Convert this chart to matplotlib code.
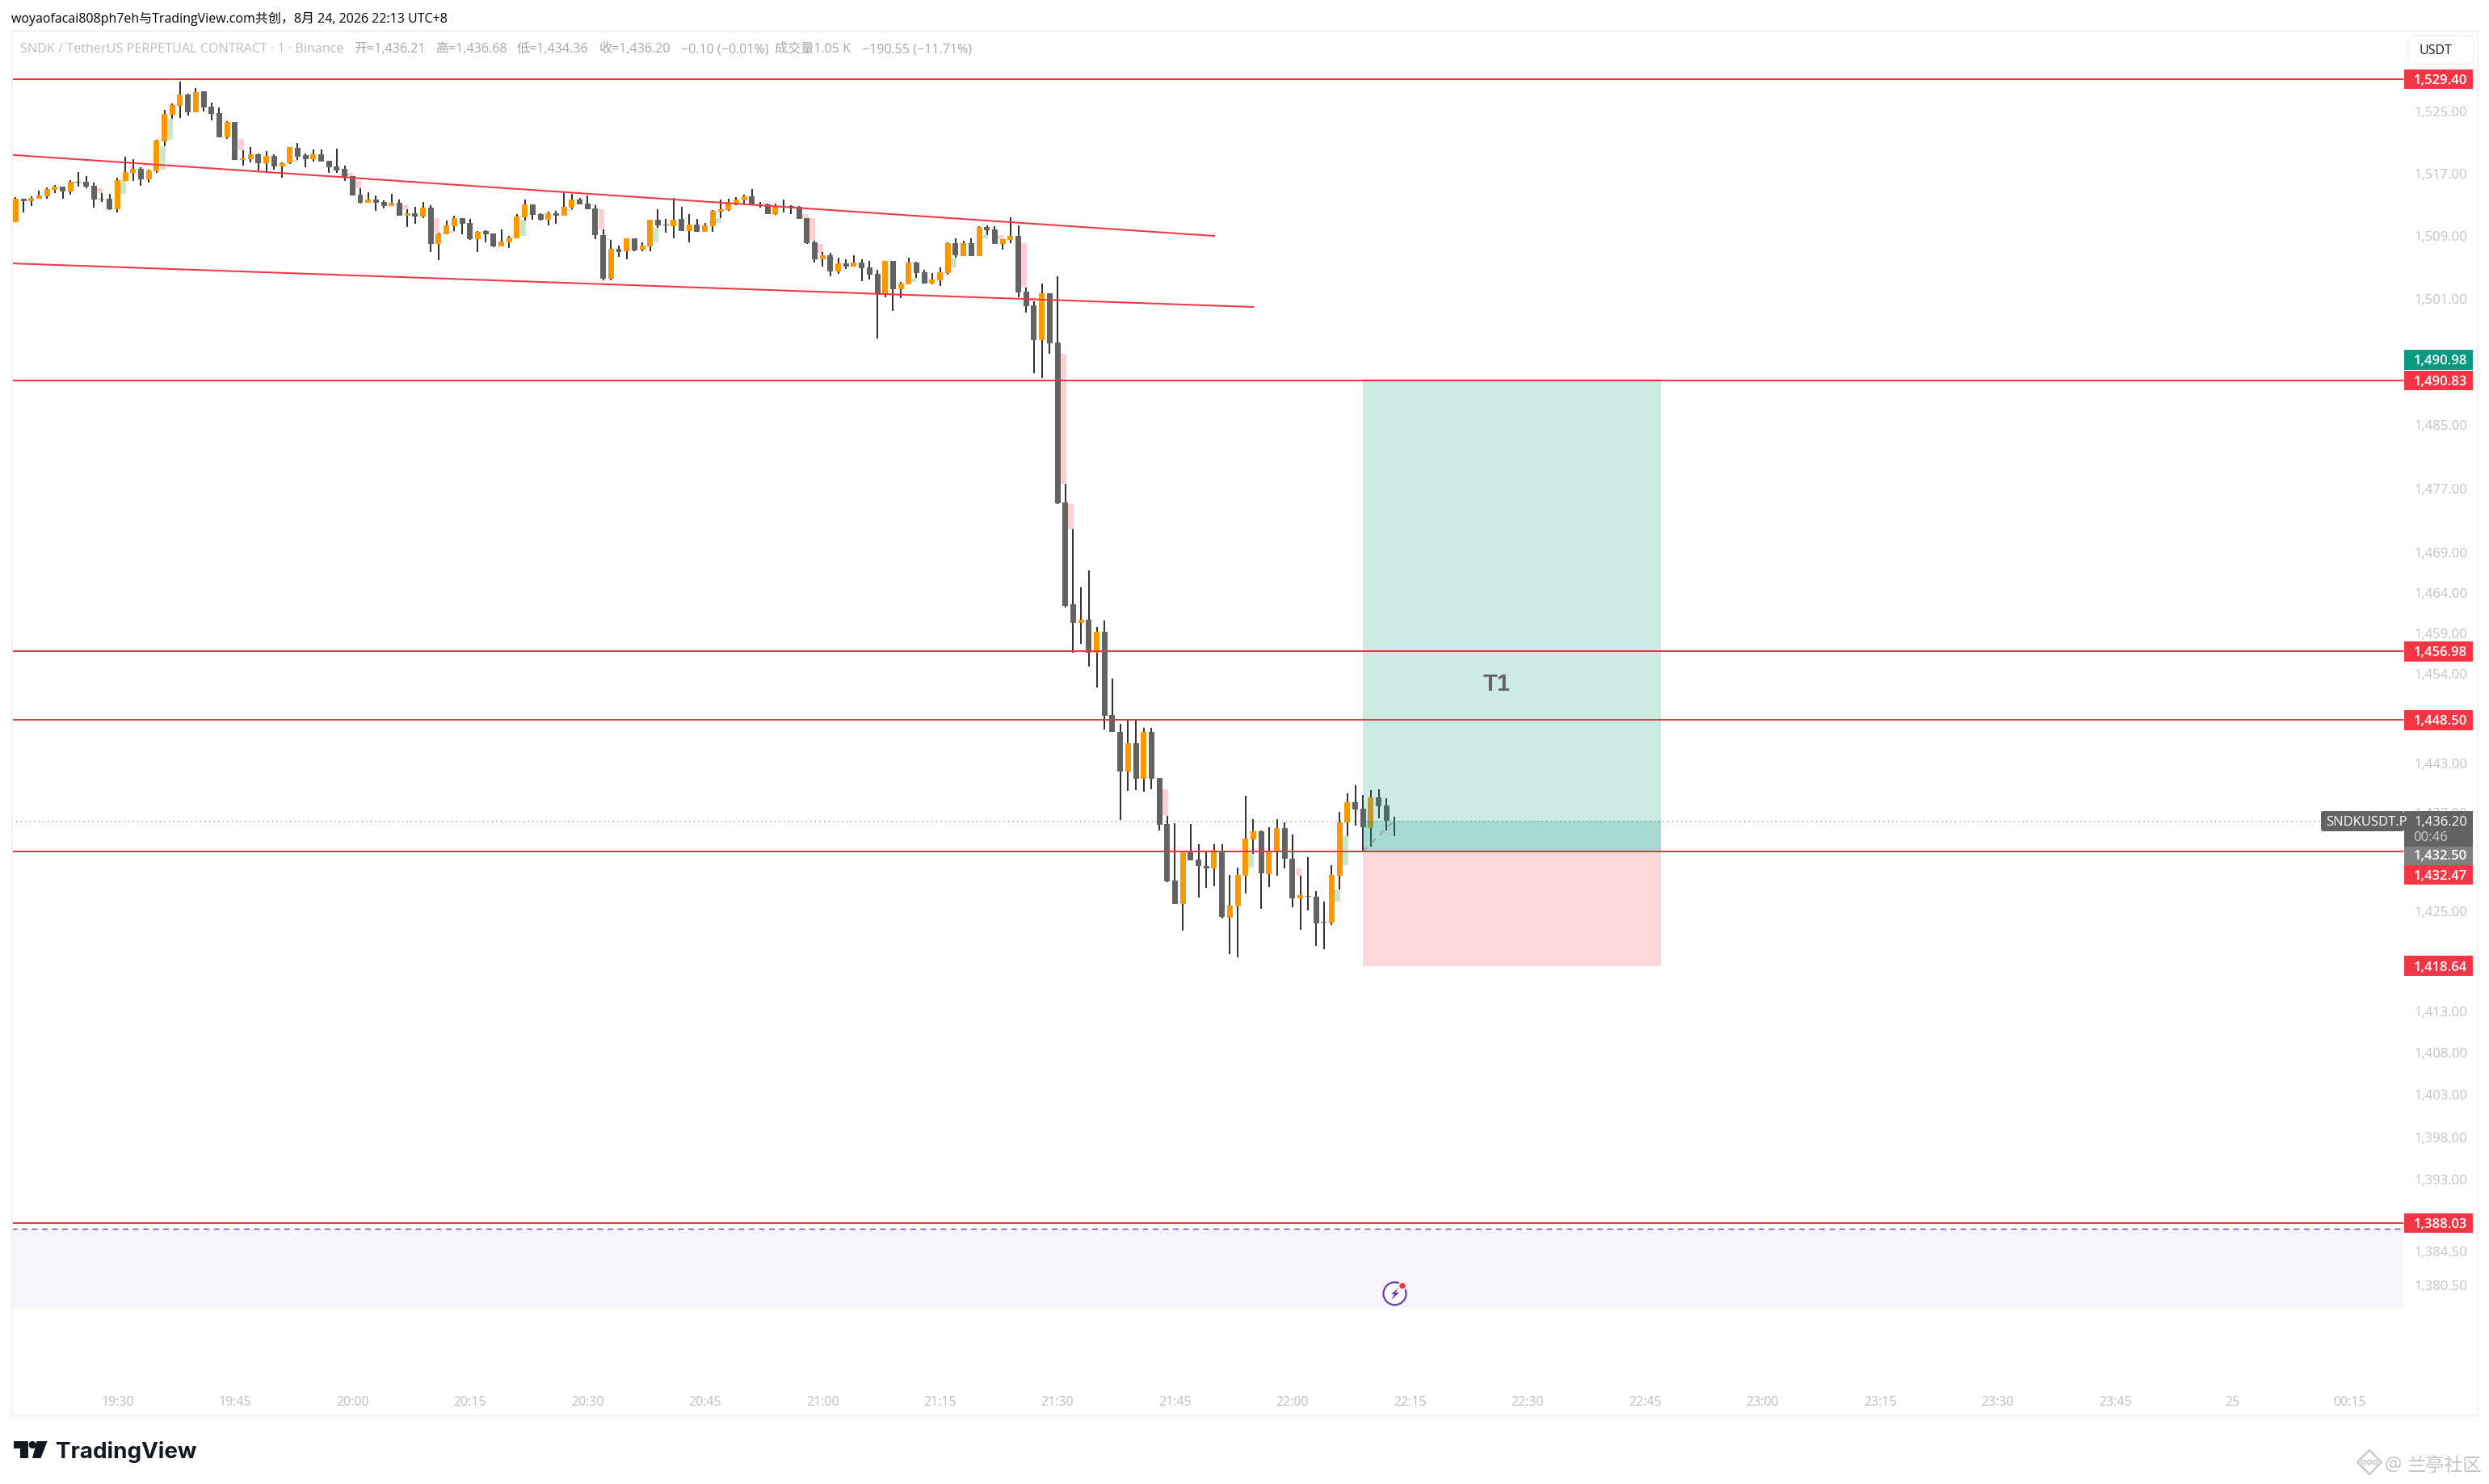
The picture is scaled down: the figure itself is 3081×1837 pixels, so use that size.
import numpy as np
import matplotlib
matplotlib.use('Agg')
import matplotlib.pyplot as plt
from matplotlib.patches import Rectangle, Circle, Polygon, FancyBboxPatch
from matplotlib.ticker import NullLocator, NullFormatter
from matplotlib.transforms import Affine2D

# 1 minute candles, x is minutes after 19:30
first_minute = -13
op = [1510.97,1513.97,1513.66,1513.97,1514.29,1515.12,1515.53,1514.91,1516.15,1516.15,1515.63,1513.97,1513.97,1512.63,1516.26,1517.30,1517.82,1516.47,1517.50,1521.36,1524.80,1525.95,1527.41,1525.11,1527.83,1525.84,1525.01,1521.88,1523.86,1518.96,1519.06,1519.69,1518.54,1519.48,1518.13,1518.54,1520.52,1519.58,1519.06,1519.69,1518.86,1518.13,1517.82,1516.88,1514.49,1513.46,1513.87,1513.56,1513.04,1513.46,1511.80,1512.11,1511.70,1512.83,1508.18,1509.42,1510.45,1511.49,1510.87,
      1508.80,1509.83,1509.52,1507.87,1508.39,1508.90,1511.59,1513.25,1512.01,1511.28,1512.11,1511.80,1512.83,1513.87,1513.35,1512.73,1509.32,1503.74,1507.56,1507.25,1508.90,1507.46,1507.87,1511.28,1510.66,1510.45,1511.38,1509.83,1510.66,1509.73,1510.45,1512.32,1512.52,1513.35,1513.77,1514.29,1513.04,1513.25,1512.01,1513.01,1513.04,1512.94,1511.49,1508.39,1506.22,1506.73,1504.67,1505.70,1505.29,1505.80,1505.19,1504.36,1501.79,1506.01,1502.41,1503.02,1505.80,1504.57,1503.13,
      1503.54,1504.46,1508.28,1506.63,1508.28,1506.63,1510.35,1510.04,1508.18,1508.70,1509.21,1502.10,1500.35,1495.94,1501.89,1495.63,1475.48,1462.80,1460.50,1460.90,1456.80,1459.40,1449.14,1447.06,1442.21,1445.67,1441.32,1447.06,1441.42,1435.80,1428.94,1426.10,1432.37,1431.48,1430.70,1430.41,1432.37,1424.44,1425.81,1429.52,1433.94,1434.92,1429.72,1432.37,1435.31,1431.58,1426.78,1427.08,1426.98,1423.95,1423.86,1429.52,1436.00,1438.46,1437.67,1435.31,1439.05,1438.07,1436.21]
hi = [1514.18,1513.97,1514.29,1515.01,1515.43,1515.74,1515.53,1516.36,1517.40,1516.88,1516.05,1514.70,1514.60,1516.67,1519.38,1519.06,1518.02,1517.71,1521.56,1525.42,1526.26,1529.09,1527.52,1528.25,1527.83,1526.37,1525.74,1523.96,1523.86,1520.21,1520.63,1519.79,1520.11,1519.69,1518.65,1520.63,1521.15,1519.79,1520.31,1520.31,1518.86,1520.42,1518.23,1516.88,1515.32,1514.80,1514.39,1513.77,1514.60,1513.87,1512.63,1512.94,1513.56,1513.15,1509.63,1511.18,1511.80,1511.49,1511.38,
      1509.83,1509.94,1509.52,1510.04,1509.21,1512.01,1513.87,1513.25,1512.11,1512.32,1512.42,1514.70,1514.60,1514.08,1514.39,1513.15,1510.04,1508.70,1507.97,1508.90,1508.90,1508.39,1511.28,1512.63,1511.38,1514.08,1512.94,1512.01,1511.38,1510.87,1512.52,1513.87,1513.97,1514.18,1514.49,1515.22,1513.56,1513.35,1513.35,1513.87,1513.15,1513.04,1511.49,1508.59,1507.15,1507.04,1506.42,1506.22,1506.73,1506.22,1506.01,1504.88,1506.01,1506.01,1503.33,1506.42,1505.91,1504.88,1504.46,
      1505.19,1508.39,1508.90,1508.59,1508.90,1510.45,1510.56,1510.45,1508.80,1511.59,1510.56,1502.61,1500.86,1503.13,1501.89,1504.05,1477.81,1472.15,1464.91,1467.02,1460.00,1460.80,1453.62,1448.05,1448.45,1448.45,1447.55,1447.55,1441.42,1436.79,1435.90,1432.37,1435.80,1433.35,1432.37,1433.35,1433.35,1429.62,1430.50,1439.25,1436.39,1435.02,1435.41,1436.39,1436.00,1434.53,1429.52,1431.78,1427.66,1426.39,1430.80,1437.28,1439.55,1440.53,1439.35,1439.94,1440.04,1438.95,1436.68]
lo = [1510.97,1512.25,1513.04,1513.97,1513.97,1514.74,1513.97,1514.49,1515.53,1515.32,1512.83,1513.56,1512.52,1512.21,1516.26,1516.26,1515.63,1516.05,1517.30,1520.73,1524.28,1524.38,1524.69,1525.11,1525.22,1524.07,1521.88,1521.67,1518.96,1518.23,1518.65,1517.61,1517.50,1517.71,1516.67,1518.44,1518.96,1518.02,1518.75,1518.75,1517.30,1517.30,1516.26,1514.39,1513.35,1513.46,1512.42,1512.73,1513.04,1511.80,1510.35,1510.76,1511.49,1507.15,1506.11,1509.42,1509.83,1509.42,1508.70,
      1507.15,1508.39,1507.77,1507.87,1507.66,1508.90,1511.18,1511.28,1511.18,1510.56,1510.76,1511.80,1512.63,1513.25,1512.63,1508.80,1503.54,1503.54,1506.53,1506.22,1507.25,1507.25,1507.25,1510.25,1509.63,1508.90,1509.83,1508.39,1509.73,1509.73,1509.73,1511.49,1512.42,1513.15,1513.35,1513.15,1512.83,1512.01,1511.90,1512.21,1512.01,1511.38,1508.18,1505.80,1505.29,1504.05,1504.36,1504.98,1505.29,1503.43,1503.64,1496.14,1501.38,1499.63,1501.27,1503.02,1503.85,1503.13,1503.02,
      1502.82,1504.26,1506.42,1506.63,1506.63,1506.63,1509.32,1508.18,1507.46,1508.28,1501.38,1499.42,1491.74,1491.13,1494.20,1475.28,1462.40,1456.80,1457.90,1455.11,1452.52,1447.36,1447.06,1436.30,1439.84,1439.94,1439.74,1440.04,1435.02,1428.74,1426.10,1422.88,1431.39,1426.88,1428.06,1428.25,1424.34,1420.06,1419.67,1427.37,1432.17,1425.51,1428.15,1429.52,1430.41,1425.71,1422.98,1425.32,1421.03,1420.64,1423.56,1427.86,1434.33,1435.61,1432.53,1433.05,1436.49,1435.02,1434.36]
cl = [1513.97,1513.66,1514.08,1514.39,1515.22,1515.53,1514.91,1516.15,1516.08,1515.53,1513.87,1513.91,1512.63,1516.36,1517.40,1517.82,1516.47,1517.61,1521.46,1524.90,1526.05,1527.41,1525.11,1527.72,1525.74,1524.90,1521.88,1523.86,1518.96,1519.17,1519.69,1518.54,1519.48,1518.13,1518.54,1520.63,1519.38,1519.06,1519.69,1518.75,1518.02,1517.61,1516.78,1514.39,1513.46,1513.87,1513.46,1513.04,1513.46,1511.80,1512.11,1511.70,1512.83,1508.18,1509.52,1510.56,1511.49,1510.76,1508.80,
      1509.73,1509.42,1507.87,1508.49,1509.01,1511.70,1513.25,1511.90,1511.28,1512.11,1511.80,1512.94,1513.87,1513.25,1512.63,1509.32,1503.74,1507.56,1507.15,1508.90,1507.35,1507.97,1511.28,1510.56,1510.59,1511.28,1509.83,1510.66,1509.73,1510.56,1512.42,1512.63,1513.56,1513.87,1514.29,1513.15,1513.25,1512.01,1512.94,1512.94,1512.87,1511.38,1508.28,1506.22,1506.73,1504.67,1505.70,1505.29,1505.80,1505.08,1504.26,1501.69,1506.01,1502.41,1503.13,1505.80,1504.46,1503.13,1503.64,
      1504.57,1508.28,1506.73,1508.28,1506.63,1510.35,1509.94,1508.18,1508.80,1509.21,1501.99,1500.25,1495.94,1501.89,1495.53,1475.38,1462.60,1460.50,1460.90,1456.80,1459.40,1449.04,1447.06,1442.21,1445.67,1441.32,1447.06,1441.32,1435.71,1428.84,1426.10,1432.37,1431.39,1430.70,1430.41,1432.66,1424.54,1425.91,1429.62,1434.03,1434.92,1429.82,1432.37,1435.31,1431.58,1426.78,1427.18,1427.01,1423.76,1423.89,1429.62,1436.00,1438.46,1437.58,1435.41,1439.05,1437.97,1436.20,1436.20]

# pale gap boxes next to some candles
fvg_i = [10,13,18,19,26,28,35,42,43,49,53,55,64,70,73,74,75,81,89,100,101,102,114,119,123,125,128,129,133,134,146,157,163,168,169]
fvg_t = [1515.32,1516.36,1520.73,1524.28,1524.07,1521.67,1518.96,1517.3,1516.26,1513.15,1511.49,1509.83,1511.18,1512.63,1513.25,1512.63,1508.8,1510.25,1511.49,1512.01,1511.49,1508.18,1503.85,1506.42,1509.32,1509.32,1508.28,1501.38,1494.2,1475.28,1440.04,1432.17,1430.41,1427.86,1434.33]
fvg_b = [1514.7,1514.6,1517.71,1521.56,1523.96,1520.21,1518.65,1516.88,1515.32,1512.63,1509.63,1509.63,1509.21,1512.42,1513.15,1510.04,1508.7,1508.39,1510.87,1511.49,1508.59,1507.04,1503.33,1505.19,1508.9,1508.8,1502.61,1500.86,1477.81,1472.15,1436.79,1430.5,1429.52,1426.39,1430.8]
fvg_c = 'PNNNPPNPPPPNNNPPPNNPPPNNNPPPPPPNPNN'

levels = [1529.40, 1490.83, 1456.98, 1448.50, 1432.47, 1388.03]
upper_x, upper_y = [-13.55, 140], [1519.62, 1509.21]
lower_x, lower_y = [-13.55, 145], [1505.70, 1500.14]
last_price, entry, target, stop = 1436.20, 1432.50, 1490.98, 1418.64
box_x = [159, 197]
shade_low, shade_high = 1378.09, 1387.37

price_ticks = [1525,1517,1509,1501,1485,1477,1469,1464,1459,1454,1443,1437,1425,1413,1408,1403,1398,1393,1384.5,1380.5]
time_ticks = list(range(0, 300, 15))
time_labels = ['19:30','19:45','20:00','20:15','20:30','20:45','21:00','21:15','21:30','21:45','22:00','22:15','22:30','22:45','23:00','23:15','23:30','23:45','25','00:15']

# price tags on the right: text, colour, price, shift in px for stacked tags
tags = [('1,529.40','#F23645',1529.40,0),('1,490.98','#089981',1490.98,-24),('1,490.83','#F23645',1490.83,0),
        ('1,456.98','#F23645',1456.98,0),('1,448.50','#F23645',1448.50,0),('1,432.50','#808080',1432.50,4.7),
        ('1,432.47','#F23645',1432.47,29),('1,418.64','#F23645',1418.64,0),('1,388.03','#F23645',1388.03,0)]

RED = '#F23645'
W, H = 3081, 1837
plt.rcParams['font.family'] = ['Open Sans', 'Noto Sans CJK SC', 'DejaVu Sans']
fig = plt.figure(figsize=(W/100, H/100), dpi=100, facecolor='white')
px = Affine2D().scale(1/W, -1/H).translate(0, 1) + fig.transFigure

ax = fig.add_axes([14/W, 1-1752/H, (2975-14)/W, (1752-38)/H])
ax.set_yscale('log')
ax.set_xlim(-13.55, 291.8)
ax.set_ylim(1365.59, 1535.70)
for s in ax.spines.values():
    s.set_visible(False)

minutes = first_minute + np.arange(len(op))
op_a, cl_a = np.array(op), np.array(cl)
colors = ['#FF9800' if c >= o else '#636363' for o, c in zip(op, cl)]

# gap boxes under the candles
fvg_x = [first_minute + i + 0.74 for i in fvg_i]
fvg_col = ['#FFCDD2' if c == 'P' else '#C8E6C9' for c in fvg_c]
ax.bar(fvg_x, np.array(fvg_t)-np.array(fvg_b), bottom=fvg_b, width=0.72, color=fvg_col, lw=0, zorder=1)

ax.vlines(minutes, lo, hi, colors='black', lw=1.15, zorder=2)
ax.bar(minutes, np.abs(cl_a-op_a), bottom=np.minimum(op_a, cl_a), width=0.72, color=colors, lw=0, zorder=3)

# shaded strip at the bottom
ax.axhspan(shade_low, shade_high, color='#F7F5FB', lw=0, zorder=0)
ax.axhline(shade_high, color='#673AB7', lw=1.0, ls=(0, (5, 4)), zorder=1)

# long position tool
ax.fill_between(box_x, entry, target, color='#089981', alpha=0.2, lw=0, zorder=4)
ax.fill_between(box_x, entry, last_price, color='#089981', alpha=0.2, lw=0, zorder=4)
ax.fill_between(box_x, stop, entry, color=RED, alpha=0.2, lw=0, zorder=4)
ax.hlines(entry, box_x[0], box_x[1], color='#787B86', lw=1.4, zorder=4)
ax.plot([159, 163], [entry, last_price], color='#9A9A9A', lw=1.3, ls=(0, (4, 4)), zorder=5)
ax.text(176.1, 1452.92, 'T1', color='#636363', fontsize=21, fontweight='bold',
        family='Liberation Sans', ha='center', va='center', zorder=7)

ax.axhline(last_price, color='#636363', lw=0.8, ls=(0, (1, 4)), zorder=5)
ax.hlines(levels, -13.55, 291.8, color=RED, lw=1.45, zorder=6)
ax.plot(upper_x, upper_y, color=RED, lw=1.45, zorder=6)
ax.plot(lower_x, lower_y, color=RED, lw=1.45, zorder=6)

ax.yaxis.tick_right()
ax.yaxis.set_minor_locator(NullLocator())
ax.yaxis.set_minor_formatter(NullFormatter())
ax.set_yticks(price_ticks)
ax.set_yticklabels(['{:,.2f}'.format(p) for p in price_ticks])
ax.set_xticks(time_ticks)
ax.set_xticklabels(time_labels)
ax.tick_params(axis='y', length=0, pad=9.4, labelsize=12, labelcolor='#C2C2C2')
ax.tick_params(axis='x', length=0, pad=-17.4, labelsize=11.5, labelcolor='#BDBDBD')
for t in ax.get_yticklabels():
    t.set_transform(t.get_transform() + Affine2D().translate(0, 2))

# outer frame
fig.add_artist(Rectangle((14, 38), 3053, 1714, transform=px, fill=False, ec='#F3F3F3', lw=2, zorder=1))


def y_of(price):
    return H - ax.transData.transform((0, price))[1]


def tag(text, color, yc, x0=2976, x1=3061, h=24.6):
    fig.add_artist(Rectangle((x0, yc-h/2), x1-x0, h, transform=px, fc=color, ec='none', zorder=8))
    fig.text(3054, yc, text, transform=px, color='white', fontsize=12, fontweight='semibold',
             ha='right', va='center_baseline', zorder=9)


fig.canvas.draw()
for text, color, price, shift in tags:
    tag(text, color, y_of(price)+shift)

# current price tag with countdown, symbol tag next to it
fig.add_artist(Rectangle((2976, 1004), 85, 43.5, transform=px, fc='#636363', ec='none', zorder=8))
fig.text(3054, 1016, '1,436.20', transform=px, color='white', fontsize=12, ha='right', va='center_baseline', zorder=9)
fig.text(3030, 1035, '00:46', transform=px, color='#D0D0D0', fontsize=12, ha='right', va='center_baseline', zorder=9)
fig.add_artist(FancyBboxPatch((2875, 1006), 99, 21, boxstyle='round,pad=2,rounding_size=3', transform=px,
                              fc='#636363', ec='none', zorder=8))
fig.text(2879, 1016.5, 'SNDKUSDT.P', transform=px, color='white', fontsize=12, ha='left', va='center_baseline', zorder=9)

# unit button
fig.add_artist(FancyBboxPatch((2985, 48), 73, 27, boxstyle='round,pad=4,rounding_size=6', transform=px,
                              fc='white', ec='#F0F3FA', lw=1.2, zorder=8))
fig.text(2994, 61, 'USDT', transform=px, color='#131722', fontsize=11.5, ha='left', va='center_baseline', zorder=9)

# header lines
fig.text(14, 21, 'woyaofacai808ph7eh与TradingView.com共创，8月 24, 2026 22:13 UTC+8', transform=px,
         color='black', fontsize=11.55, ha='left', va='center_baseline')
GREY1, GREY2 = '#BDBDBD', '#A6A6A6'
fig.text(25, 59, 'SNDK / TetherUS PERPETUAL CONTRACT · 1 · Binance', transform=px, color=GREY1, fontsize=11.65,
         ha='left', va='center_baseline')
for x, s in [(438, '开=1,436.21'), (539, '高=1,436.68'), (640, '低=1,434.36'), (741, '收=1,436.20'),
             (843, '−0.10 (−0.01%)'), (959, '成交量1.05 K'), (1067, '−190.55 (−11.71%)')]:
    fig.text(x, 59, s, transform=px, color=GREY2, fontsize=11.65, ha='left', va='center_baseline')

# purple lightning icon
fig.add_artist(Circle((1726.5, 1601.3), 14, transform=px, fc='white', ec='#673AB7', lw=1.6, zorder=8))
bolt = [(393,283),(366,306),(378,306),(366,328),(396,300),(383,300)]
fig.add_artist(Polygon([(1600+a/3, 1500+b/3) for a, b in bolt], closed=True, transform=px, fc='#673AB7', ec='none', zorder=9))
fig.add_artist(Circle((1736, 1591.7), 5.5, transform=px, fc='white', ec='none', zorder=9))
fig.add_artist(Circle((1736, 1591.7), 3.7, transform=px, fc=RED, ec='none', zorder=10))

# TradingView logo
LOGO = '#131722'
fig.add_artist(Polygon([(16.5,1784),(34.5,1784),(34.5,1805),(25,1805),(25,1793),(16.5,1793)], closed=True, transform=px, fc=LOGO, ec='none'))
fig.add_artist(Circle((40.2,1788.5), 4.6, transform=px, fc=LOGO, ec='none'))
fig.add_artist(Polygon([(45.5,1784),(58.6,1784),(50.5,1805),(40,1805)], closed=True, transform=px, fc=LOGO, ec='none'))
fig.text(69, 1805, 'TradingView', transform=px, color=LOGO, fontsize=20, fontweight='bold', family='Inter',
         ha='left', va='baseline')

# watermark bottom right
WM = '#C4C4C4'
fig.add_artist(Polygon([(2933,1795),(2948,1810),(2933,1825),(2918,1810)], closed=True, transform=px, fill=False, ec=WM, lw=1.6))
for cx in (2925.5, 2933, 2940.5):
    fig.add_artist(Circle((cx, 1810), 2.6, transform=px, fill=False, ec=WM, lw=1.1))
fig.text(2962, 1811, '@', transform=px, color=WM, fontsize=17, ha='center', va='center_baseline')
fig.text(2980, 1812, '兰亭社区', transform=px, color=WM, fontsize=16.7, family='Noto Sans CJK SC', ha='left', va='center_baseline')

fig.savefig('out.png', dpi=100, facecolor='white')
